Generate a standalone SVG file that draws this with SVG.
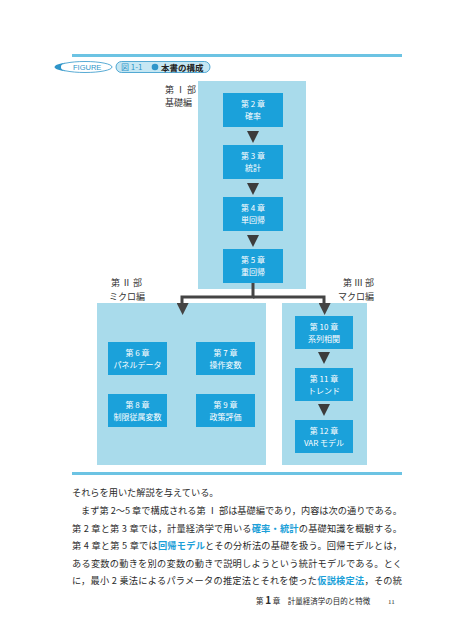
<svg xmlns="http://www.w3.org/2000/svg" width="474" height="632" viewBox="0 0 474 632">
<style>
.part{fill:#a9dbeb}
.ch{fill:#1ba1da}
.cht{fill:#ffffff;font-family:"Noto Sans CJK JP","Noto Sans",sans-serif;font-size:8px;text-anchor:middle}
.lbl{fill:#333;font-family:"Noto Sans CJK JP","Noto Sans",sans-serif;font-size:9px}
.body{fill:#2a2a2a;font-family:"Noto Sans CJK JP","Noto Sans",sans-serif;font-size:9.2px}
.hl{fill:#1b9fd8;font-weight:bold}
.tri{fill:#3c3c3c}
.conn{stroke:#444;stroke-width:3;fill:none}
</style>
<defs>
<marker id="ah" markerWidth="4" markerHeight="4" refX="2" refY="2.2" orient="auto" markerUnits="strokeWidth">
<path d="M0,0 L4,2 L0,4 z" fill="#444"/>
</marker>
</defs>
<rect width="474" height="632" fill="#ffffff"/>
<!-- header -->
<g id="header">
<line x1="72" y1="55.5" x2="402" y2="55.5" stroke="#6cc3e3" stroke-width="3"/>
<ellipse cx="85" cy="67" rx="27" ry="5.5" fill="#fff" stroke="#2f95c9" stroke-width="0.8"/>
<path d="M66,62.5 A27,5.5 0 0 0 66,71.5 A9,5 0 0 1 66,62.5 z" fill="#2f95c9"/>
<text x="73" y="70" font-family="Liberation Sans,sans-serif" font-size="7.5" fill="#2f95c9">FIGURE</text>
<rect x="116" y="61.5" width="94" height="11" rx="5.5" fill="#c6e7f3" stroke="#2f95c9" stroke-width="0.8"/>
<text x="121" y="70.3" font-family="'Noto Sans CJK JP',sans-serif" font-size="8" fill="#2f95c9">図 1-1</text>
<circle cx="155" cy="67" r="3.3" fill="#2f95c9"/>
<text x="161" y="70.5" font-family="'Noto Sans CJK JP',sans-serif" font-size="8.5" fill="#222" font-weight="bold">本書の構成</text>
</g>
<!-- Part I -->
<g id="part1">
<rect class="part" x="198" y="81" width="108" height="208"/>
<text class="lbl" x="165" y="93">第 Ⅰ 部</text>
<text class="lbl" x="165" y="106">基礎編</text>
</g>
<g id="ch2"><rect class="ch" x="223" y="93" width="60" height="34"/><text class="cht" x="253" y="107">第 2 章</text><text class="cht" x="253" y="119">確率</text></g>
<g id="ch3"><rect class="ch" x="223" y="145" width="60" height="34"/><text class="cht" x="253" y="159">第 3 章</text><text class="cht" x="253" y="171">統計</text></g>
<g id="ch4"><rect class="ch" x="223" y="197" width="60" height="34"/><text class="cht" x="253" y="211">第 4 章</text><text class="cht" x="253" y="223">単回帰</text></g>
<g id="ch5"><rect class="ch" x="223" y="249" width="60" height="34"/><text class="cht" x="253" y="263">第 5 章</text><text class="cht" x="253" y="275">重回帰</text></g>
<!-- Part II -->
<g id="part2">
<rect class="part" x="97" y="303" width="169" height="162"/>
<text class="lbl" x="111" y="286">第 Ⅱ 部</text>
<text class="lbl" x="109" y="300">ミクロ編</text>
</g>
<g id="ch6"><rect class="ch" x="108" y="342" width="59" height="33"/><text class="cht" x="137.5" y="356">第 6 章</text><text class="cht" x="137.5" y="368">パネルデータ</text></g>
<g id="ch7"><rect class="ch" x="196" y="342" width="59" height="33"/><text class="cht" x="225.5" y="356">第 7 章</text><text class="cht" x="225.5" y="368">操作変数</text></g>
<g id="ch8"><rect class="ch" x="108" y="394" width="59" height="33"/><text class="cht" x="137.5" y="408">第 8 章</text><text class="cht" x="137.5" y="420">制限従属変数</text></g>
<g id="ch9"><rect class="ch" x="196" y="394" width="59" height="33"/><text class="cht" x="225.5" y="408">第 9 章</text><text class="cht" x="225.5" y="420">政策評価</text></g>
<!-- Part III -->
<g id="part3">
<rect class="part" x="282" y="303" width="85" height="162"/>
<text class="lbl" x="343" y="286">第 Ⅲ 部</text>
<text class="lbl" x="338" y="300">マクロ編</text>
</g>
<g id="ch10"><rect class="ch" x="295" y="316" width="58" height="33"/><text class="cht" x="324" y="330">第 10 章</text><text class="cht" x="324" y="342">系列相関</text></g>
<g id="ch11"><rect class="ch" x="295" y="368" width="58" height="33"/><text class="cht" x="324" y="382">第 11 章</text><text class="cht" x="324" y="394">トレンド</text></g>
<g id="ch12"><rect class="ch" x="295" y="420" width="58" height="33"/><text class="cht" x="324" y="434">第 12 章</text><text class="cht" x="324" y="446">VAR モデル</text></g>
<!-- connectors -->
<g id="connectors">
<polygon class="tri" points="247,131 259,131 253,143"/>
<polygon class="tri" points="247,183 259,183 253,195"/>
<polygon class="tri" points="247,235 259,235 253,247"/>
<polygon class="tri" points="318,352 330,352 324,364"/>
<polygon class="tri" points="318,404 330,404 324,416"/>
<polyline class="conn" points="253,283 253,297 182,297 182,309" marker-end="url(#ah)"/>
<polyline class="conn" points="253,297 324,297 324,309" marker-end="url(#ah)"/>
</g>
<!-- bottom rule and body text -->
<line x1="72" y1="473.5" x2="402" y2="473.5" stroke="#6cc3e3" stroke-width="3"/>
<g id="bodytext">
<text class="body" x="72" y="496">それらを用いた解説を与えている。</text>
<text class="body" x="81" y="514" textLength="321" lengthAdjust="spacing">まず第 2〜5 章で構成される第 Ⅰ 部は基礎編であり，内容は次の通りである。</text>
<text class="body" x="72" y="532" textLength="330" lengthAdjust="spacing">第 2 章と第 3 章では，計量経済学で用いる<tspan class="hl">確率・統計</tspan>の基礎知識を概観する。</text>
<text class="body" x="72" y="549" textLength="330" lengthAdjust="spacing">第 4 章と第 5 章では<tspan class="hl">回帰モデル</tspan>とその分析法の基礎を扱う。回帰モデルとは，</text>
<text class="body" x="72" y="567" textLength="330" lengthAdjust="spacing">ある変数の動きを別の変数の動きで説明しようという統計モデルである。とく</text>
<text class="body" x="72" y="584" textLength="330" lengthAdjust="spacing">に，最小 2 乗法によるパラメータの推定法とそれを使った<tspan class="hl">仮説検定法</tspan>，その統</text>
<text x="256" y="604" font-family="'Noto Sans CJK JP',sans-serif" font-size="7.5" fill="#2a2a2a">第 <tspan font-weight="bold" font-size="10">1</tspan> 章　計量経済学の目的と特徴</text>
<text x="388" y="604" font-family="'Liberation Serif',serif" font-size="7" fill="#2a2a2a">11</text>
</g>
</svg>
